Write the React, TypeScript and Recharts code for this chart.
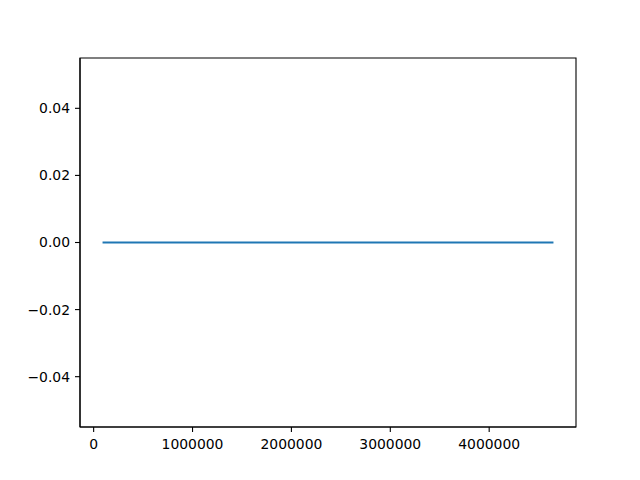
import React from 'react';
import { LineChart, Line, XAxis, YAxis, ReferenceArea } from 'recharts';

const xValues = [90000, 1000000, 2000000, 3000000, 4000000, 4650000];
const yValues = [0, 0, 0, 0, 0, 0];
const xTicks = [0, 1000000, 2000000, 3000000, 4000000];
const yTicks = [-0.04, -0.02, 0, 0.02, 0.04];
const xDomain: [number, number] = [-138000, 4878000];
const yDomain: [number, number] = [-0.055, 0.055];

const data = xValues.map((x, i) => ({ x, y: yValues[i] }));

const fmtY = (v: number) => (v < 0 ? '\u2212' : '') + Math.abs(v).toFixed(2);
const fmtX = (v: number) => String(Math.round(v));

const tickStyle = { fill: '#000', fontSize: 13.9, fontFamily: 'DejaVu Sans' };
const lineStyle = { stroke: '#000', strokeWidth: 1.1 };

export default function App() {
  return (
    <div style={{ position: 'absolute', left: 0, top: 0, width: 640, height: 480, background: '#fff' }}>
      <LineChart width={640} height={480} data={data} margin={{ top: 58, right: 64, bottom: 0, left: 0 }}>
        <XAxis
          dataKey="x"
          type="number"
          domain={xDomain}
          ticks={xTicks}
          tickFormatter={fmtX}
          allowDataOverflow
          height={53}
          tickSize={5}
          tickMargin={7}
          tick={tickStyle}
          axisLine={lineStyle}
          tickLine={lineStyle}
          interval={0}
        />
        <YAxis
          type="number"
          domain={yDomain}
          ticks={yTicks}
          tickFormatter={fmtY}
          allowDataOverflow
          width={80}
          tickSize={5}
          tickMargin={5}
          tick={tickStyle}
          axisLine={lineStyle}
          tickLine={lineStyle}
          interval={0}
        />
        <ReferenceArea
          x1={xDomain[0]}
          x2={xDomain[1]}
          y1={yDomain[0]}
          y2={yDomain[1]}
          fill="none"
          fillOpacity={0}
          stroke="#000"
          strokeWidth={1.1}
          ifOverflow="visible"
        />
        <Line
          dataKey="y"
          type="linear"
          stroke="#1f77b4"
          strokeWidth={2.08}
          dot={false}
          isAnimationActive={false}
        />
      </LineChart>
    </div>
  );
}
